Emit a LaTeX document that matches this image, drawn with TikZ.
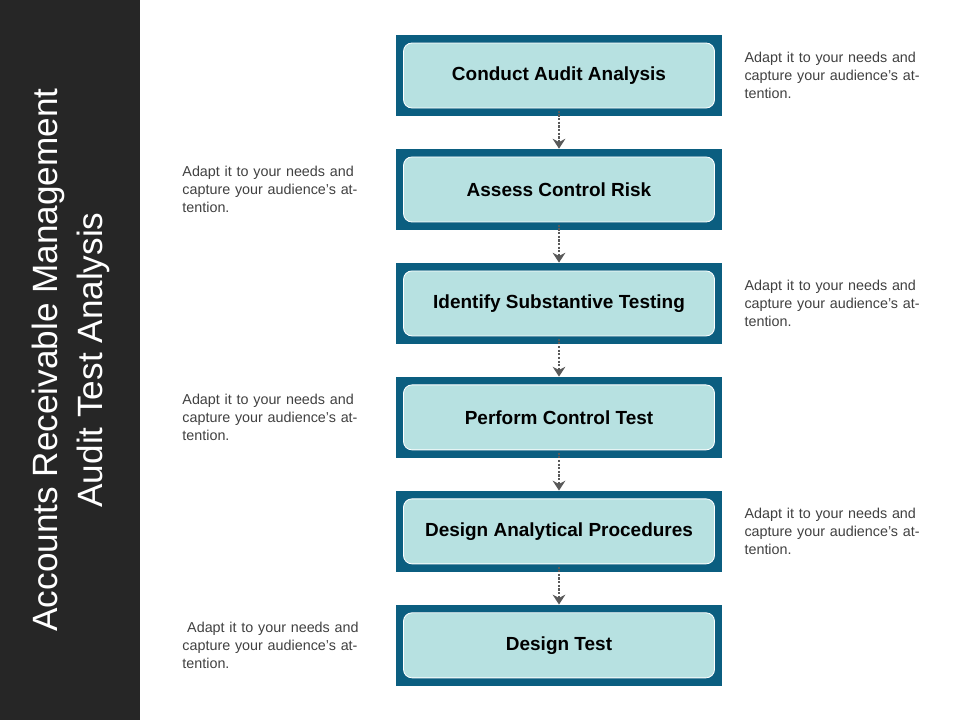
\documentclass[tikz,border=0pt]{standalone}
\usepackage{fontspec}
\setmainfont{Liberation Sans}
\usetikzlibrary{positioning, arrows.meta, calc}
\definecolor{sidebar}{HTML}{262626}
\definecolor{frame}{HTML}{0B5E80}
\definecolor{cell}{HTML}{B7E1E1}
\definecolor{note}{HTML}{404040}

\begin{document}
\begin{tikzpicture}[
  node distance=0.81cm and 0.55cm,
  outer/.style={fill=frame, minimum width=8.15cm, minimum height=2.025cm, inner sep=0},
  stage/.style={draw=white, line width=0.6pt, fill=cell, rounded corners=6pt,
               minimum width=7.775cm, minimum height=1.625cm,
               font=\fontsize{13.5}{16}\selectfont\bfseries, align=center},
  note/.style={text width=4.775cm, inner sep=0, align=left, text=note,
               font=\fontsize{10.2}{12.6}\selectfont},
  flow/.style={densely dotted, line width=1.6pt, draw=black!65,
               -{Stealth[length=7pt, width=9pt]}, shorten <=-4pt}
]
  \useasboundingbox (0,0) rectangle (24,-18);
  % Title bar
  \fill[sidebar] (0,0) rectangle (3.5,-18);
  \node[rotate=90, text=white, align=center,
        font=\fontsize{25}{32}\selectfont] (title) at (1.78,-9.0)
    {Accounts Receivable Management\\Audit Test Analysis};

  % Frames
  \node[outer] (o1) at (13.975,-1.8875) {};
  \node[outer, below=of o1] (o2) {};
  \node[outer, below=of o2] (o3) {};
  \node[outer, below=of o3] (o4) {};
  \node[outer, below=of o4] (o5) {};
  \node[outer, below=of o5] (o6) {};

  % Stages
  \node[stage] (s1) at (o1) {Conduct Audit Analysis};
  \node[stage] (s2) at (o2) {Assess Control Risk};
  \node[stage] (s3) at (o3) {Identify Substantive Testing};
  \node[stage] (s4) at (o4) {Perform Control Test};
  \node[stage] (s5) at (o5) {Design Analytical Procedures};
  \node[stage] (s6) at (o6) {Design Test};

  % Arrows
  \draw[flow] (o1.south) -- (o2.north);
  \draw[flow] (o2.south) -- (o3.north);
  \draw[flow] (o3.south) -- (o4.north);
  \draw[flow] (o4.south) -- (o5.north);
  \draw[flow] (o5.south) -- (o6.north);

  % Notes
  \node[note, right=of o1] (n1) {Adapt it to your needs and capture your audience's attention.};
  \node[note, left=of o2] (n2) {Adapt it to your needs and capture your audience's attention.};
  \node[note, right=of o3] (n3) {Adapt it to your needs and capture your audience's attention.};
  \node[note, left=of o4] (n4) {Adapt it to your needs and capture your audience's attention.};
  \node[note, right=of o5] (n5) {Adapt it to your needs and capture your audience's attention.};
  \node[note, left=of o6] (n6) {\ Adapt it to your needs and capture your audience's attention.};
\end{tikzpicture}
\end{document}
